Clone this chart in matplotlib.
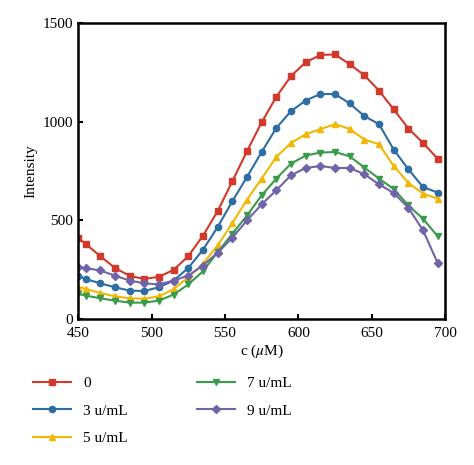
import matplotlib
matplotlib.use("Agg")
import matplotlib.pyplot as plt

plt.rcParams['font.family'] = ['Liberation Serif', 'DejaVu Serif']
plt.rcParams['mathtext.fontset'] = 'stix'

x = [450, 455, 465, 475, 485, 495, 505, 515, 525, 535, 545, 555, 565, 575, 585, 595, 605, 615, 625, 635, 645, 655, 665, 675, 685, 695]
s0 = [412, 381, 319, 259, 219, 203, 214, 249, 319, 422, 547, 698, 851, 997, 1127, 1232, 1302, 1339, 1342, 1292, 1236, 1158, 1063, 966, 893, 812]
s3 = [220, 203, 181, 161, 144, 142, 161, 195, 259, 351, 466, 597, 720, 847, 969, 1054, 1108, 1141, 1141, 1093, 1029, 988, 859, 759, 669, 641]
s5 = [164, 153, 132, 115, 105, 103, 115, 151, 212, 280, 373, 486, 605, 712, 822, 893, 937, 963, 988, 964, 910, 886, 776, 690, 636, 610]
s7 = [127, 119, 105, 93, 83, 83, 93, 124, 175, 242, 339, 432, 525, 627, 712, 788, 829, 844, 847, 825, 768, 712, 659, 576, 508, 419]
s9 = [263, 258, 246, 220, 195, 181, 175, 195, 220, 271, 336, 412, 500, 581, 653, 729, 766, 776, 766, 766, 734, 683, 639, 564, 449, 283]
labels = ['0', '3 u/mL', '5 u/mL', '7 u/mL', '9 u/mL']
colors = ['#d13a2a', '#2e6da4', '#f2b705', '#3a9b4a', '#7064a8']
markers = ['s', 'o', '^', 'v', 'D']
sizes = [4.2, 4.5, 4.5, 4.5, 3.8]

fig = plt.figure(figsize=(4.74, 4.65), dpi=100)
ax = fig.add_axes([0.165, 0.314, 0.774, 0.636])
for ys, lab, c, m, ms in zip([s0, s3, s5, s7, s9], labels, colors, markers, sizes):
    ax.plot(x, ys, color=c, marker=m, markersize=ms, lw=1.5, label=lab)
ax.set_xlim(450, 700)
ax.set_ylim(0, 1500)
ax.set_xticks([450, 500, 550, 600, 650, 700])
ax.set_yticks([0, 500, 1000, 1500])
ax.tick_params(direction='in', labelsize=11, width=1.5)
ax.tick_params(axis='x', pad=6)
for sp in ax.spines.values():
    sp.set_linewidth(1.8)
ax.set_xlabel(r'c ($\mu$M)', fontsize=11, labelpad=2)
ax.set_ylabel('Intensity', fontsize=11)
fig.legend(ncol=2, loc='upper left',
           bbox_to_anchor=(0.04, 0.22), frameon=False, fontsize=11,
           columnspacing=4.5, handlelength=2.5, labelspacing=0.9)
fig.savefig('out.png', dpi=100)
